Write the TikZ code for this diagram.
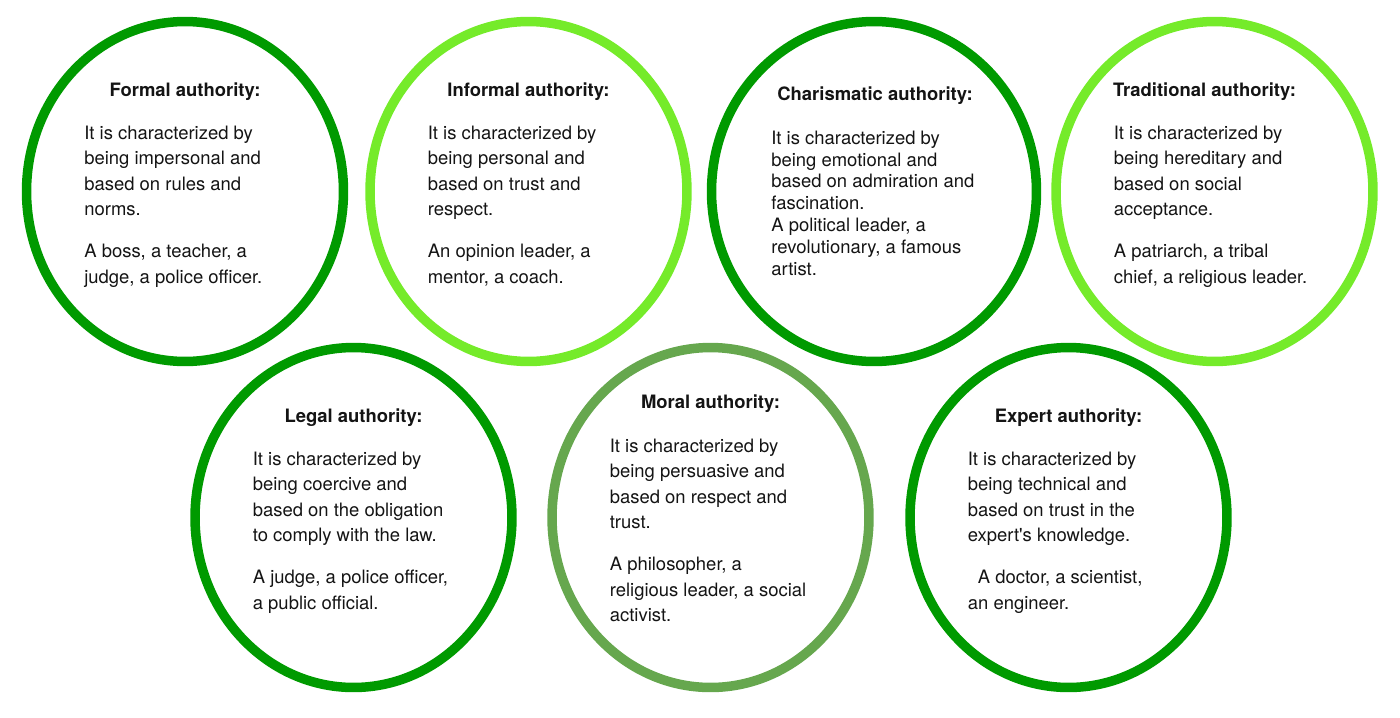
\documentclass[tikz,border=0pt]{standalone}
\usepackage{fontspec}
\setmainfont{TeX Gyre Heros}
\usepackage{xcolor}
\usetikzlibrary{shapes.geometric,positioning}
\definecolor{darkGreenColor}{RGB}{0, 154, 0}
\definecolor{lightGreenColor}{RGB}{117, 235, 42}
\definecolor{mutedGreenColor}{RGB}{102, 167, 78}
\definecolor{inkColor}{RGB}{20, 20, 20}

\begin{document}
\begin{tikzpicture}[x=0.02cm, y=-0.02cm,
    ring/.style={ellipse, draw=#1, line width=0.19cm, minimum width=6.34cm, minimum height=6.8cm, inner sep=0pt},
    heading/.style={font=\bfseries\fontsize{10.5}{14.5}\selectfont, text=inkColor, inner sep=0pt, anchor=base},
    body/.style={font=\fontsize{10.5}{14.5}\selectfont, text=inkColor, align=left, inner sep=0pt, anchor=base west}]
    \useasboundingbox (0,0) rectangle (1400,717);

    % Top row of rings
    \node[ring=darkGreenColor] (formal) at (185,191.5) {};
    \node[ring=lightGreenColor] (informal) at (528.5,191.5) {};
    \node[ring=darkGreenColor, minimum width=6.5cm] (charis) at (874,191.5) {};
    \node[ring=lightGreenColor] (tradit) at (1214.5,191.5) {};

    % Bottom row of rings
    \node[ring=darkGreenColor] (legal) at (353.5,517.5) {};
    \node[ring=mutedGreenColor] (moral) at (710.5,517.5) {};
    \node[ring=darkGreenColor] (expert) at (1068.5,517.5) {};

    % Formal authority (body is anchored on its last line)
    \node[heading] (formal-title) at ([shift={(0,-95)}]formal.center) {Formal authority:};
    \node[body] (formal-text) at ([shift={(-101,91.8)}]formal.center)
      {It is characterized by\\ being impersonal and\\ based on rules and\\ norms.\\[0.334cm]
       A boss, a teacher, a\\ judge, a police officer.};

    % Informal authority
    \node[heading] (informal-title) at ([shift={(0,-95)}]informal.center) {Informal authority:};
    \node[body] (informal-text) at ([shift={(-101,91.8)}]informal.center)
      {It is characterized by\\ being personal and\\ based on trust and\\ respect.\\[0.334cm]
       An opinion leader, a\\ mentor, a coach.};

    % Charismatic authority
    \node[heading] (charis-title) at ([shift={(1,-91.5)}]charis.center) {Charismatic authority:};
    \node[body, font=\fontsize{10.5}{12.4}\selectfont] (charis-text) at ([shift={(-103,83.5)}]charis.center)
      {It is characterized by\\ being emotional and\\ based on admiration and\\ fascination.\\
       A political leader, a\\ revolutionary, a famous\\ artist.};

    % Traditional authority
    \node[heading] (tradit-title) at ([shift={(-10,-95)}]tradit.center) {Traditional authority:};
    \node[body] (tradit-text) at ([shift={(-101,91.8)}]tradit.center)
      {It is characterized by\\ being hereditary and\\ based on social\\ acceptance.\\[0.334cm]
       A patriarch, a tribal\\ chief, a religious leader.};

    % Legal authority
    \node[heading] (legal-title) at ([shift={(0,-95)}]legal.center) {Legal authority:};
    \node[body] (legal-text) at ([shift={(-101,91.8)}]legal.center)
      {It is characterized by\\ being coercive and\\ based on the obligation\\ to comply with the law.\\[0.334cm]
       A judge, a police officer,\\ a public official.};

    % Moral authority
    \node[heading] (moral-title) at ([shift={(0,-109)}]moral.center) {Moral authority:};
    \node[body] (moral-text) at ([shift={(-101,104.2)}]moral.center)
      {It is characterized by\\ being persuasive and\\ based on respect and\\ trust.\\[0.334cm]
       A philosopher, a\\ religious leader, a social\\ activist.};

    % Expert authority
    \node[heading] (expert-title) at ([shift={(0,-95)}]expert.center) {Expert authority:};
    \node[body] (expert-text) at ([shift={(-101,91.8)}]expert.center)
      {It is characterized by\\ being technical and\\ based on trust in the\\ expert\textquotesingle s knowledge.\\[0.334cm]
       \hspace{0.2cm}A doctor, a scientist,\\ an engineer.};
\end{tikzpicture}
\end{document}
